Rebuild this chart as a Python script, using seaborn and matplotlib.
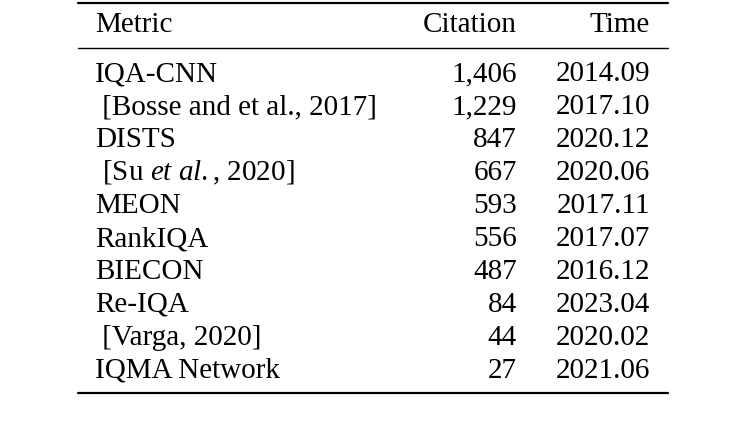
import matplotlib
matplotlib.use("Agg")
import matplotlib.pyplot as plt
import seaborn as sns

metrics = ["IQA-CNN", " [Bosse and et al., 2017]", "DISTS", r" [Su $\mathit{et\ al.}$, 2020]",
           "MEON", "RankIQA", "BIECON", "Re-IQA", " [Varga, 2020]", "IQMA Network"]
citations = [1406, 1229, 847, 667, 593, 556, 487, 84, 44, 27]
times = ["2014.09", "2017.10", "2020.12", "2020.06", "2017.11", "2017.07",
         "2016.12", "2023.04", "2020.02", "2021.06"]
headers = ["Metric", "Citation", "Time"]

sns.set_theme(style="white")
plt.rcParams['font.family'] = ['Liberation Serif', 'DejaVu Serif']
plt.rcParams['mathtext.fontset'] = 'custom'
plt.rcParams['mathtext.rm'] = 'Liberation Serif'
plt.rcParams['mathtext.it'] = 'Liberation Serif:italic'

fig = plt.figure(figsize=(7.4, 4.25), dpi=100)
ax = fig.add_axes([0, 0, 1, 1])
ax.set_xlim(0, 740)
ax.set_ylim(425, 0)
ax.axis("off")

fs = 21
kw = dict(fontsize=fs, va="baseline", color="black")
x_metric, x_cit, x_time = 95, 517, 650
ax.plot([78, 668], [3, 3], color="black", lw=1.6)
ax.plot([78, 668], [48, 48], color="black", lw=1.0)
ax.plot([78, 668], [393, 393], color="black", lw=1.6)

yb = 32
ax.text(x_metric, yb, headers[0], ha="left", **kw)
ax.text(x_cit, yb, headers[1], ha="right", **kw)
ax.text(x_time, yb, headers[2], ha="right", **kw)

y0, dy = 81, 33
for i, (m, c, t) in enumerate(zip(metrics, citations, times)):
    y = y0 + i * dy
    ax.text(x_metric, y, m, ha="left", **kw)
    ax.text(x_cit, y, f"{c:,}", ha="right", **kw)
    ax.text(x_time, y, t, ha="right", **kw)

fig.savefig("out.png", dpi=100)
